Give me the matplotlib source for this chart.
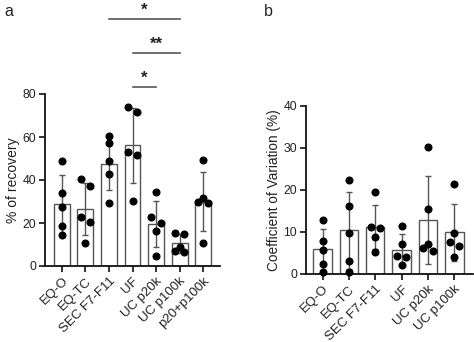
import numpy as np
import matplotlib
matplotlib.use("Agg")
import matplotlib.pyplot as plt

plt.rcParams['font.family'] = ['Liberation Sans', 'DejaVu Sans']
TXT = '#222222'

# ---------------- data ----------------
cats_a = ["EQ-O", "EQ-TC", "SEC F7-F11", "UF", "UC p20k", "UC p100k", "p20+p100k"]
recovery = [
    [48.8, 33.8, 27.6, 18.6, 14.3],
    [40.3, 37.4, 23.0, 20.6, 10.9],
    [60.3, 57.0, 49.0, 42.6, 29.1],
    [73.8, 71.6, 53.0, 51.6, 30.4],
    [34.4, 22.6, 19.8, 16.4, 4.6],
    [15.3, 15.0, 9.0, 6.8, 6.5],
    [49.3, 31.5, 29.6, 29.2, 10.9],
]
yticks_a = [0, 20, 40, 60, 80]
sig_pairs = [(2, 5, "*"), (3, 5, "**"), (3, 4, "*")]
sig_levels = [114.9, 99.0, 83.3]

cats_b = ["EQ-O", "EQ-TC", "SEC F7-F11", "UF", "UC p20k", "UC p100k"]
cv = [
    [12.9, 7.8, 5.6, 2.5, 0.5],
    [22.5, 16.2, 9.8, 3.0, 0.5],
    [19.6, 11.3, 11.0, 8.9, 5.2],
    [11.5, 7.1, 4.4, 4.0, 2.1],
    [30.2, 15.4, 7.1, 6.1, 5.5],
    [21.4, 9.7, 7.7, 6.7, 4.0],
]
yticks_b = [0, 10, 20, 30, 40]

# ---------------- helpers ----------------
def swarm_offsets(vals, ax, dia_px=6.8, half_px=4.6):
    fig = ax.figure
    bb = ax.get_position()
    w_px = bb.width * fig.get_figwidth() * fig.dpi
    h_px = bb.height * fig.get_figheight() * fig.dpi
    x0, x1 = ax.get_xlim()
    y0, y1 = ax.get_ylim()
    ypx = h_px / (y1 - y0)
    xpx = w_px / (x1 - x0)
    order = np.argsort(vals)[::-1]
    v = np.asarray(vals)[order]
    chains, cur = [], [0]
    for i in range(1, len(v)):
        if (v[i - 1] - v[i]) * ypx < dia_px:
            cur.append(i)
        else:
            chains.append(cur)
            cur = [i]
    chains.append(cur)
    offs = np.zeros(len(v))
    for ch in chains:
        if len(ch) == 1:
            continue
        members = list(ch)
        if len(members) % 2 == 1:
            gfirst = v[members[0]] - v[members[1]]
            glast = v[members[-2]] - v[members[-1]]
            if gfirst > glast:
                members.pop(0)
            else:
                members.pop(-1)
        for k, m in enumerate(members):
            offs[m] = (-1 if k % 2 == 0 else 1) * half_px / xpx
    out = np.zeros(len(v))
    out[order] = offs
    return out


def draw_panel(ax, cats, groups, yticks, xlim, bar_w):
    n = len(cats)
    x = np.arange(n)
    ax.set_xlim(*xlim)
    ax.set_ylim(yticks[0], yticks[-1])
    means = [np.mean(g) for g in groups]
    sds = [np.std(g, ddof=1) for g in groups]
    ax.bar(x, means, width=bar_w, facecolor='white', edgecolor='#555555',
           linewidth=1.0, zorder=2)
    ax.errorbar(x, means, yerr=sds, fmt='none', ecolor='#555555',
                elinewidth=1.0, capsize=2.2, capthick=1.0, zorder=3)
    for i, g in enumerate(groups):
        off = swarm_offsets(g, ax)
        ax.plot(x[i] + off, g, 'o', color='black', markersize=5.8,
                markeredgewidth=0, zorder=4, clip_on=False)
    for s in ['top', 'right']:
        ax.spines[s].set_visible(False)
    for s in ['left', 'bottom']:
        ax.spines[s].set_linewidth(1.3)
        ax.spines[s].set_color('#111111')
    ax.set_yticks(yticks)
    ax.set_xticks(x)
    ax.set_xticklabels(cats, rotation=45, ha='right', rotation_mode='anchor',
                       fontsize=9.5, color=TXT)
    ax.tick_params(axis='both', length=4, width=1.2, color='#111111',
                   labelcolor=TXT, pad=2.5)
    ax.tick_params(axis='y', labelsize=8.8)


fig = plt.figure(figsize=(4.74, 3.42), dpi=100)

# panel a
axa = fig.add_axes([45 / 474, (342 - 266) / 342, 175 / 474, 172 / 342])
draw_panel(axa, cats_a, recovery, yticks_a, (-0.72, 6.72), 0.68)
axa.set_ylabel("% of recovery", fontsize=10.0, color=TXT, labelpad=2)
for (a, b, lab), lev in zip(sig_pairs, sig_levels):
    axa.plot([a, b], [lev, lev], color='#555555', lw=1.2, clip_on=False)
    axa.annotate(lab, xy=((a + b) / 2, lev), xytext=(0, 1.0),
                 textcoords='offset points', ha='center', va='bottom',
                 fontsize=12, fontweight='bold', color=TXT,
                 annotation_clip=False)

# panel b
axb = fig.add_axes([306 / 474, (342 - 274) / 342, 167 / 474, 168 / 342])
draw_panel(axb, cats_b, cv, yticks_b, (-0.63, 5.71), 0.7)
axb.set_ylabel("Coefficient of Variation (%)", fontsize=9.8, color=TXT, labelpad=2)

fig.text(4 / 474, 1 - 16 / 342, "a", fontsize=11.5, color=TXT)
fig.text(264 / 474, 1 - 16 / 342, "b", fontsize=11.5, color=TXT)

fig.savefig("out.png", dpi=100)
